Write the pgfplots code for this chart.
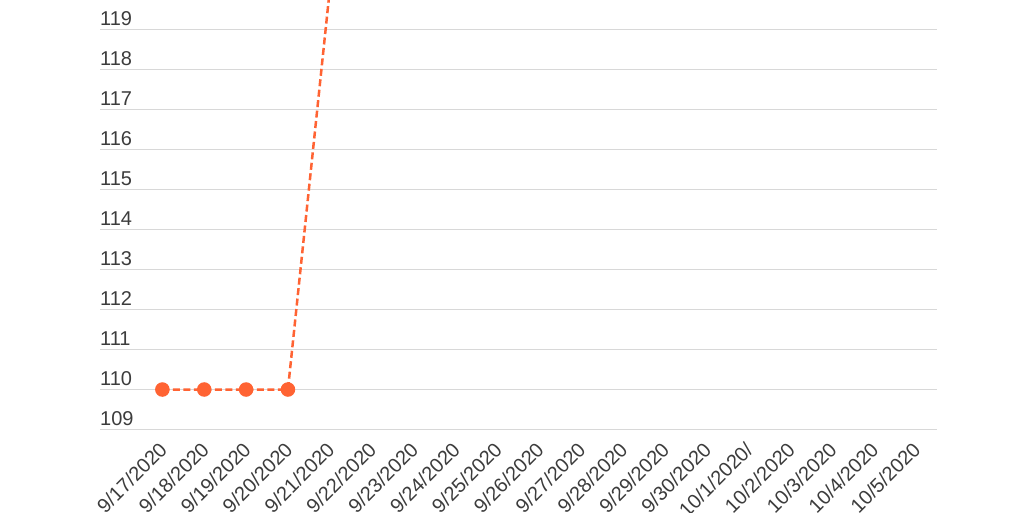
\documentclass[border=0pt]{standalone}
\usepackage{pgfplots}
\pgfplotsset{compat=1.18}
\usepackage{fontspec}
\setmainfont{Liberation Sans}
\definecolor{lineorange}{RGB}{255,99,51}
\definecolor{labelgray}{RGB}{60,60,60}
\definecolor{gridgray}{RGB}{216,216,216}
\begin{document}
\begin{tikzpicture}
\path[use as bounding box] (-100pt,-82.5pt) rectangle (924pt,429.5pt);
\begin{axis}[
    at={(0,0)}, anchor=south west,
    scale only axis, width=836.7pt, height=429.5pt,
    xmin=-1.49, xmax=18.5, ymin=109, ymax=119.74,
    xtick={0,...,18},
    xticklabels={9/17/2020,9/18/2020,9/19/2020,9/20/2020,9/21/2020,9/22/2020,
        9/23/2020,9/24/2020,9/25/2020,9/26/2020,9/27/2020,9/28/2020,9/29/2020,
        9/30/2020,10/1/2020/,10/2/2020,10/3/2020,10/4/2020,10/5/2020},
    ytick={109,...,119},
    ymajorgrids,
    grid style={gridgray, line width=1.6pt},
    axis line style={draw=none},
    major tick length=0pt,
    tick label style={font=\fontsize{20}{24}\selectfont, text=labelgray},
    /pgf/number format/assume math mode=true,
    yticklabel style={anchor=base west, inner sep=0pt, yshift=3.7pt},
    xticklabel style={xshift=1pt, yshift=-16.5pt, rotate=45, anchor=east, inner sep=0pt},
]
% 9/21 value runs off the top of the chart
\addplot[lineorange, line width=2.5pt, dash pattern=on 7pt off 3.5pt,
    mark=*, mark size=6pt, mark options={solid, fill=lineorange}]
    coordinates {
    (0, 110)
    (1, 110)
    (2, 110)
    (3, 110)
    (4, 120)
};
\end{axis}
\end{tikzpicture}
\end{document}
